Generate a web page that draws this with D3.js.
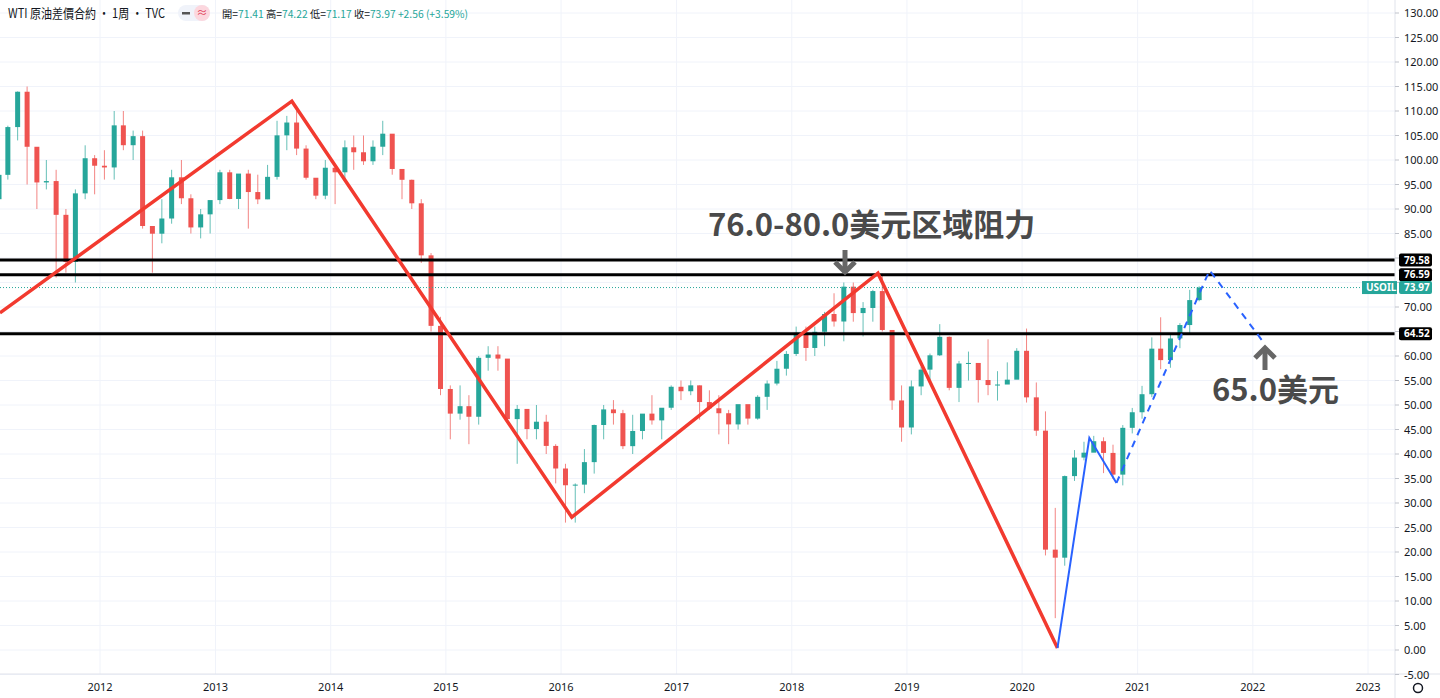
<!DOCTYPE html>
<html><head><meta charset="utf-8">
<script src="https://cdn.jsdelivr.net/npm/d3@7"></script>
<style>
body{margin:0;background:#fff;font-family:"Noto Sans CJK TC","Noto Sans",sans-serif;}
</style></head><body>
<svg id="chart" width="1440" height="698"></svg>
<script>
// monthly bars, Feb 2011 .. Jul 2021
const startMonth = [2011, 1];
const closes = [96.97,106.72,113.93,102.70,95.42,95.70,88.81,79.20,93.19,100.36,98.83,
 98.48,107.07,103.02,104.87,86.53,84.96,88.06,96.47,92.19,86.24,88.91,91.82,
 97.49,92.05,97.23,93.46,91.97,96.56,105.03,107.65,102.33,96.38,92.72,98.42,
 97.49,102.59,101.58,99.74,102.71,105.37,98.17,95.96,91.16,80.54,66.15,53.27,
 48.24,49.76,47.60,59.63,60.30,59.47,47.12,49.20,45.09,46.59,41.65,37.04,
 33.62,33.75,38.34,45.92,49.10,48.33,41.60,44.70,48.24,46.86,49.44,53.72,
 52.81,54.01,50.60,49.33,48.32,46.04,50.17,47.23,51.67,54.38,57.40,60.42,
 64.73,61.64,64.94,68.57,67.04,74.15,68.76,69.80,73.25,65.31,50.93,45.41,
 53.79,57.22,60.14,63.91,53.50,58.47,58.58,55.10,54.07,54.18,55.17,61.06,
 51.56,44.76,20.48,18.84,35.49,39.27,40.27,42.61,40.22,35.79,45.34,48.52,
 52.20,61.50,59.16,63.58,66.32,71.41,73.97];
const highs = [99,107,114,115,102,100,98,90,94,103,101,
 102,110,110,106,106,86,92,98,100,93,90,91,
 98,98,97,98,97,99,108,109,111,103,96,100,
 99,104,105,105,104,108,105,98,96,92,81,68,
 54,54,52,60,62,62,59,50,48,50,48,42,
 38,34,41,46,50,51,49,48,48,52,49,54,
 55,55,54,53,52,49,50,50,52,55,59,61,
 66,66,66,69,72.8,75,75,71,73.5,76.8,65,54,
 55,57.8,60.5,66.5,64,59,60.9,57.5,63.4,56.9,58.7,61.6,
 65.6,54.6,48.7,29,35.6,40.8,42.5,43.7,43.4,41.9,45.9,49.4,
 53.9,63.8,67.9,64.5,66.7,73.5,74.22];
const lows = [84,96,104,95,90,94,76,77,75,92,93,
 96,96,102,100,86,77,83,87,91,85,84,85,
 91,92,90,86,91,92,96,102,101,96,92,92,
 91,96,98,99,99,101,97,92,90,79,65,52,
 43,47,42,46,57,57,47,38,43,43,40,34,
 26,26,32,36,43,46,41,40,43,46,43,49,
 51,52,47,49,44,42,45,46,47,49,54,56,
 60,59,60,62,66,63,67,64,67,65,49,42.5,
 44,52,55,60,53,50.6,55,50.5,52,50.9,55,55.6,
 50.5,43.7,19.3,6.5,17.2,34.5,38.7,40.5,36.1,34.9,33.6,44.2,
 47.2,51.6,57.3,57.6,61.6,64.4,71.17];
const yearTicks = [2012,2013,2014,2015,2016,2017,2018,2019,2020,2021,2022,2023];
const levels = [79.58, 76.59, 64.52];
const lastPrice = 73.97;
// pattern pivots [decimal year, price]
const redPath = [[2011.133,68.8],[2013.665,112],[2016.094,27.1],[2018.748,76.9],[2020.309,0.4]];
const bluePath = [[2020.309,0.4],[2020.586,43.3],[2020.82,34.1]];
const blueDash = [[2020.82,34.1],[2021.626,77.5],[2022.077,63.3]];

const svg = d3.select('#chart');
const plotR = 1395, plotBottom = 674;
const dec = v => { const yr = Math.floor(v); const f = v - yr; return new Date(yr, 0, 1 + f * 365); };
const x = d3.scaleTime().domain([new Date(2012,0,1), new Date(2023,0,1)]).range([100, 1368]);
const y = d3.scaleLinear().domain([0, 130]).range([650, 13]);

const g = svg.append('g');
// grid
g.selectAll('.hg').data(d3.range(-5, 131, 5)).enter().append('line')
  .attr('x1', 0).attr('x2', plotR).attr('y1', d => y(d)).attr('y2', d => y(d))
  .attr('stroke', '#f0f3fa');
g.selectAll('.vg').data(yearTicks).enter().append('line')
  .attr('x1', d => x(new Date(d,0,1))).attr('x2', d => x(new Date(d,0,1)))
  .attr('y1', 0).attr('y2', plotBottom).attr('stroke', '#f0f3fa');
svg.append('line').attr('x1', plotR).attr('x2', plotR).attr('y1', 0).attr('y2', 698).attr('stroke', '#e0e3eb');
svg.append('line').attr('x1', 0).attr('x2', 1440).attr('y1', plotBottom).attr('y2', plotBottom).attr('stroke', '#e0e3eb');

// candles
const bars = closes.map((c, i) => ({
  date: new Date(startMonth[0], startMonth[1] + i, 15),
  o: i === 0 ? 92 : closes[i - 1], c, h: highs[i], l: lows[i]
}));
const up = '#26a69a', dn = '#ef5350';
const cg = g.selectAll('.c').data(bars).enter().append('g');
cg.append('line').attr('x1', d => x(d.date)).attr('x2', d => x(d.date))
  .attr('y1', d => y(d.h)).attr('y2', d => y(d.l))
  .attr('stroke', d => d.c >= d.o ? up : dn).attr('stroke-width', 1).attr('opacity', 0.7);
cg.append('rect').attr('x', d => x(d.date) - 2.5).attr('width', 5)
  .attr('y', d => y(Math.max(d.o, d.c))).attr('height', d => Math.max(1, Math.abs(y(d.o) - y(d.c))))
  .attr('fill', d => d.c >= d.o ? up : dn);

// levels
g.selectAll('.lv').data(levels).enter().append('line')
  .attr('x1', 0).attr('x2', plotR).attr('y1', d => y(d)).attr('y2', d => y(d))
  .attr('stroke', '#000').attr('stroke-width', 3);
g.append('line').attr('x1', 0).attr('x2', plotR).attr('y1', y(lastPrice)).attr('y2', y(lastPrice))
  .attr('stroke', '#26a69a').attr('stroke-width', 1).attr('stroke-dasharray', '1,2');

const line = d3.line().x(d => x(dec(d[0]))).y(d => y(d[1]));
g.append('path').attr('d', line(redPath)).attr('fill', 'none').attr('stroke', '#f23a2f').attr('stroke-width', 3.5);
g.append('path').attr('d', line(bluePath)).attr('fill', 'none').attr('stroke', '#2962ff').attr('stroke-width', 2);
g.append('path').attr('d', line(blueDash)).attr('fill', 'none').attr('stroke', '#2962ff').attr('stroke-width', 2).attr('stroke-dasharray', '7,6');

// annotations
const gray = '#4a4a4a';
svg.append('text').attr('x', 708).attr('y', 236).attr('font-size', 31).attr('font-weight', 'bold')
  .attr('fill', gray).text('76.0-80.0美元区域阻力');
svg.append('text').attr('x', 1212).attr('y', 401).attr('font-size', 31).attr('font-weight', 'bold')
  .attr('fill', gray).text('65.0美元');
function arrow(cx, tipY, dir) {
  const s = dir; // 1 down, -1 up
  svg.append('line').attr('x1', cx).attr('x2', cx).attr('y1', tipY - s * 22).attr('y2', tipY - s * 3)
    .attr('stroke', '#666').attr('stroke-width', 5);
  svg.append('path').attr('d', `M${cx - 10},${tipY - s * 10} L${cx},${tipY} L${cx + 10},${tipY - s * 10}`)
    .attr('fill', 'none').attr('stroke', '#666').attr('stroke-width', 5).attr('stroke-linejoin', 'miter');
}
arrow(845, 272, 1);
arrow(1265, 348, -1);

// y axis (tick labels hidden where a price tag covers them)
const tagVals = levels.concat([lastPrice]);
const yTicks = d3.range(-5, 131, 5).filter(v => tagVals.every(t => Math.abs(y(t) - y(v)) > 12));
const ay = svg.append('g');
ay.selectAll('text').data(yTicks).enter().append('text')
  .attr('x', 1404).attr('y', d => y(d) + 4).attr('font-size', 11).attr('fill', '#131722')
  .attr('font-family', 'Noto Sans').text(d => d.toFixed(2));
ay.selectAll('line').data(d3.range(-5, 131, 5)).enter().append('line')
  .attr('x1', plotR).attr('x2', plotR + 4).attr('y1', d => y(d)).attr('y2', d => y(d)).attr('stroke', '#c0c3cb');
function tag(v, bg) {
  ay.append('rect').attr('x', 1399).attr('y', y(v) - 6.5).attr('width', 33).attr('height', 13).attr('rx', 2).attr('fill', bg);
  ay.append('text').attr('x', 1404).attr('y', y(v) + 3.5).attr('font-size', 10).attr('font-weight', 'bold')
    .attr('fill', '#fff').attr('font-family', 'Noto Sans').text(v.toFixed(2));
}
levels.forEach(v => tag(v, '#000'));
ay.append('rect').attr('x', 1362).attr('y', y(lastPrice) - 6.5).attr('width', 35).attr('height', 13).attr('fill', '#26a69a');
ay.append('text').attr('x', 1366).attr('y', y(lastPrice) + 3.5).attr('font-size', 10).attr('font-weight', 'bold')
  .attr('fill', '#fff').attr('font-family', 'Noto Sans').text('USOIL');
tag(lastPrice, '#26a69a');

// x axis
svg.selectAll('.xt').data(yearTicks).enter().append('text')
  .attr('x', d => x(new Date(d,0,1))).attr('y', 691).attr('text-anchor', 'middle')
  .attr('font-size', 11).attr('fill', '#131722').attr('font-family', 'Noto Sans').text(d => d);
svg.append('circle').attr('cx', 1418).attr('cy', 688).attr('r', 4.5).attr('fill', 'none').attr('stroke', '#131722').attr('stroke-width', 1.5);

// header
const hd = svg.append('g');
hd.append('text').attr('x', 8).attr('y', 18).attr('font-size', 13).attr('fill', '#131722')
  .attr('textLength', 157).attr('lengthAdjust', 'spacingAndGlyphs').text('WTI 原油差價合約 · 1周 · TVC');
hd.append('rect').attr('x', 178).attr('y', 5).attr('width', 32).attr('height', 16).attr('rx', 8).attr('fill', '#f0f3fa');
hd.append('rect').attr('x', 194).attr('y', 5).attr('width', 16).attr('height', 16).attr('rx', 8).attr('fill', '#fcd7de');
hd.append('rect').attr('x', 182).attr('y', 12).attr('width', 8).attr('height', 2.5).attr('fill', '#555');
hd.append('text').attr('x', 202).attr('y', 17).attr('text-anchor', 'middle').attr('font-size', 11).attr('fill', '#e0405a').text('≈');
const ohlc = [['開','71.41'],['高','74.22'],['低','71.17'],['收','73.97']];
const ht = hd.append('text').attr('x', 222).attr('y', 18).attr('font-size', 10.5)
  .attr('textLength', 246).attr('lengthAdjust', 'spacingAndGlyphs');
ohlc.forEach(([k, v]) => {
  ht.append('tspan').attr('fill', '#131722').text(k + '=');
  ht.append('tspan').attr('fill', '#26a69a').text(v + '  ');
});
ht.append('tspan').attr('fill', '#26a69a').text('+2.56 (+3.59%)');
</script>
</body></html>
